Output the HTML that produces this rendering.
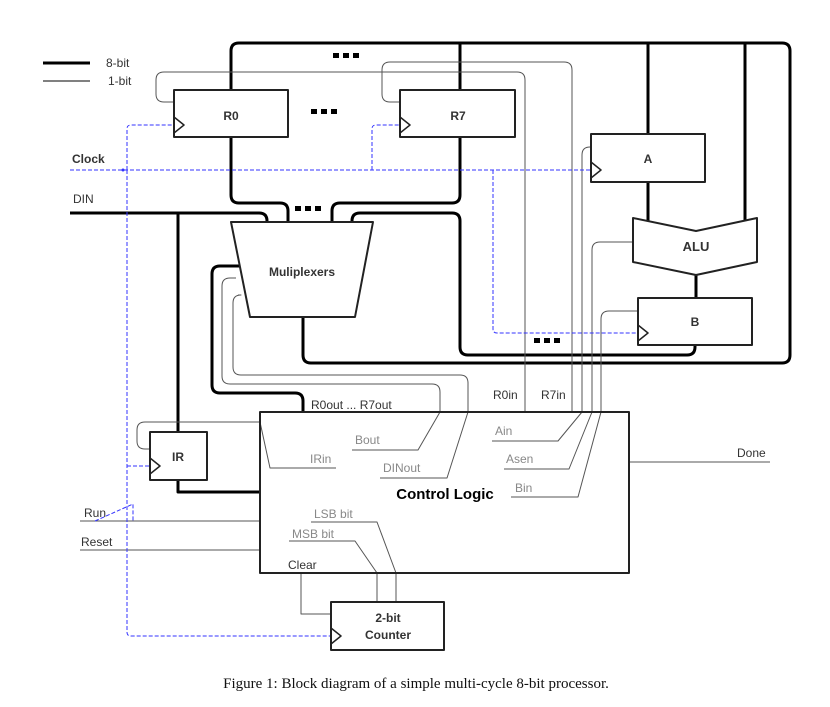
<!DOCTYPE html>
<html><head><style>body{margin:0;background:#fff}svg{display:block}</style></head><body>
<svg width="830" height="707" viewBox="0 0 830 707" xmlns="http://www.w3.org/2000/svg" font-family="Liberation Sans, sans-serif">
<g fill="none" stroke-linejoin="round">
<line x1="43" y1="63" x2="90" y2="63" stroke="#000" stroke-width="3"/>
<line x1="43" y1="81" x2="90" y2="81" stroke="#000" stroke-width="1"/>
<g stroke="#000" stroke-width="3">
<path d="M303 317 V355 Q303 363 311 363 H782 Q790 363 790 355 V51 Q790 43 782 43 H239 Q231 43 231 51 V90"/>
<path d="M231 137 V195 Q231 203 239 203 H280 Q288 203 288 211 V222"/>
<path d="M460 43 V90 M460 137 V195 Q460 203 452 203 H340 Q332 203 332 211 V222"/>
<path d="M70 213 H259 Q267 213 267 221 V222"/>
<path d="M695 345 V347 Q695 355 687 355 H468 Q460 355 460 347 V221 Q460 213 452 213 H360 Q352 213 352 221 V222"/>
<path d="M648 43 V134 M648 182 V221 M745 43 V221 M696 275 V298"/>
<path d="M178 213 V432 M178 480 V492 H260"/>
<path d="M240 266 H220 Q212 266 212 274 V385 Q212 393 220 393 H295 Q303 393 303 401 V412"/>
</g>
<g stroke="#555" stroke-width="1">
<path d="M174 102 H164 Q156 102 156 94 V80 Q156 72 164 72 H517 Q525 72 525 80 V412"/>
<path d="M400 102 H390 Q382 102 382 94 V70 Q382 62 390 62 H564 Q572 62 572 70 V412"/>
<path d="M591 147 H590 Q582 147 582 155 V412 L558 441 H492"/>
<path d="M633 242 H600 Q592 242 592 250 V412 L569 469 H504"/>
<path d="M638 311 H609 Q601 311 601 319 V412 L578 497 H511"/>
<path d="M236 278 H230 Q222 278 222 286 V376 Q222 384 230 384 H432 Q440 384 440 392 V412 L418 450 H352"/>
<path d="M238 295 H241 Q233 295 233 303 V367 Q233 375 241 375 H460 Q468 375 468 383 V412 L447 478 H380"/>
<path d="M150 449 H145 Q137 449 137 441 V430 Q137 422 145 422 H260 L270 468 H336"/>
<path d="M629 462 H770 M80 521 H260 M80 550 H260"/>
<path d="M311 522 H377 L396 573 V602 M289 541 H355 L377 573 V602"/>
<path d="M301 573 V614 H331"/>
</g>
<g stroke="#33f" stroke-width="1" stroke-dasharray="4,2">
<path d="M70 170 H590"/>
<path d="M127 170 V129 Q127 125 131 125 H174"/>
<path d="M372 170 V129 Q372 125 376 125 H400"/>
<path d="M127 170 V632 Q127 636 131 636 H331"/>
<path d="M127 466 H150"/>
<path d="M493 170 V329 Q493 333 497 333 H638"/>
<path d="M95 521 L133 504 V521"/>
</g>
<circle cx="123" cy="170" r="1.5" fill="#33f"/>
<g stroke="#222" stroke-width="2" fill="#fff">
<rect x="174" y="90" width="114" height="47"/>
<rect x="400" y="90" width="115" height="47"/>
<rect x="591" y="134" width="114" height="48"/>
<rect x="638" y="298" width="114" height="47"/>
<rect x="150" y="432" width="57" height="48"/>
<rect x="260" y="412" width="369" height="161" fill="none"/>
<rect x="331" y="602" width="113" height="48"/>
<polygon points="231,222 373,222 355,317 250,317"/>
<polygon points="633,218 696,231 757,218 757,262 696,275 633,262"/>
</g>
<g stroke="#222" stroke-width="1.5">
<path d="M174 117 L184 125 L174 133 M400 117 L410 125 L400 133 M591 162 L601 170 L591 178 M638 325 L648 333 L638 341 M150 458 L160 466 L150 474 M331 628 L341 636 L331 644"/>
</g>
</g>
<g fill="#000">
<rect x="333" y="53" width="6" height="5"/><rect x="343" y="53" width="6" height="5"/><rect x="353" y="53" width="6" height="5"/>
<rect x="311" y="109" width="6" height="5"/><rect x="321" y="109" width="6" height="5"/><rect x="331" y="109" width="6" height="5"/>
<rect x="295" y="206" width="6" height="5"/><rect x="305" y="206" width="6" height="5"/><rect x="315" y="206" width="6" height="5"/>
<rect x="534" y="338" width="6" height="5"/><rect x="544" y="338" width="6" height="5"/><rect x="554" y="338" width="6" height="5"/>
</g>
<g font-size="12" fill="#333">
<text x="106" y="67">8-bit</text><text x="108" y="85">1-bit</text>
<text x="72" y="163" font-weight="bold" font-size="12">Clock</text>
<text x="73" y="203">DIN</text>
<text x="231" y="120" font-weight="bold" text-anchor="middle">R0</text>
<text x="458" y="120" font-weight="bold" text-anchor="middle">R7</text>
<text x="648" y="163" font-weight="bold" text-anchor="middle">A</text>
<text x="696" y="251" font-weight="bold" text-anchor="middle" font-size="13">ALU</text>
<text x="695" y="326" font-weight="bold" text-anchor="middle">B</text>
<text x="302" y="276" font-weight="bold" text-anchor="middle">Muliplexers</text>
<text x="178" y="461" font-weight="bold" text-anchor="middle">IR</text>
<text x="445" y="499" font-weight="bold" text-anchor="middle" font-size="15" fill="#000">Control Logic</text>
<text x="388" y="622" font-weight="bold" text-anchor="middle">2-bit</text>
<text x="388" y="639" font-weight="bold" text-anchor="middle">Counter</text>
<text x="311" y="409">R0out ... R7out</text>
<text x="493" y="399">R0in</text><text x="541" y="399">R7in</text>
<text x="737" y="457">Done</text>
<text x="84" y="517">Run</text><text x="81" y="546">Reset</text>
<text x="288" y="569">Clear</text>
</g>
<g font-size="12" fill="#888">
<text x="355" y="444">Bout</text><text x="310" y="463">IRin</text><text x="383" y="472">DINout</text>
<text x="495" y="435">Ain</text><text x="506" y="463">Asen</text><text x="515" y="492">Bin</text>
<text x="314" y="518">LSB bit</text><text x="292" y="538">MSB bit</text>
</g>
<text x="416" y="688" font-family="Liberation Serif, serif" font-size="15" text-anchor="middle" fill="#111">Figure 1: Block diagram of a simple multi-cycle 8-bit processor.</text>
</svg>
</body></html>
